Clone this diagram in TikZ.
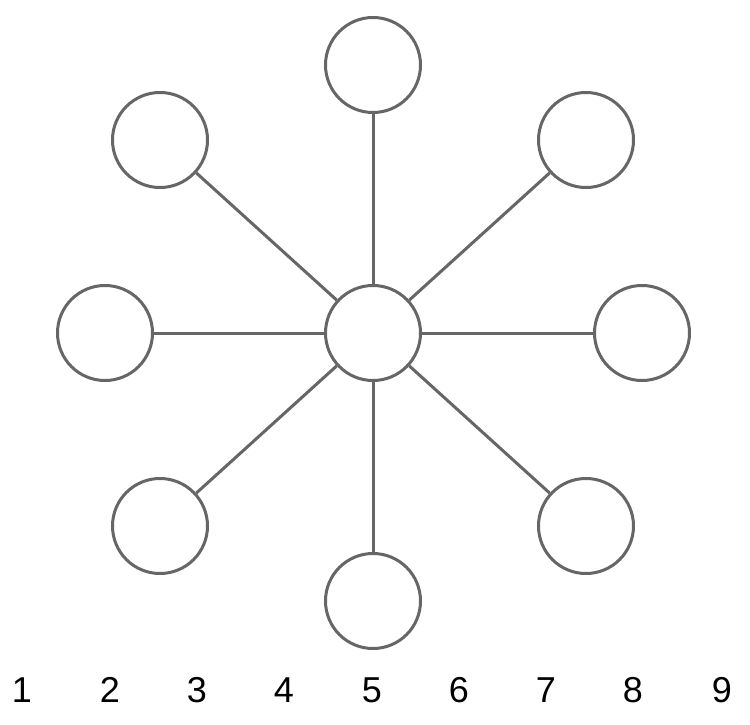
\documentclass[tikz,border=0pt]{standalone}
\usepackage{fontspec}
\setmainfont{Liberation Sans}
\begin{document}
\begin{tikzpicture}[x=1pt,y=-1pt,
  nd/.style={circle,draw=black!60,line width=3pt,minimum size=95pt,inner sep=0pt,fill=white},
  ln/.style={draw=black!60,line width=3pt},
  num/.style={font=\fontsize{36}{42}\selectfont,inner sep=0pt}]
\useasboundingbox (0,0) rectangle (750,725);
\node[nd] (c) at (373,333) {};
\node[nd] (n) at (373,65) {};
\node[nd] (s) at (373,601) {};
\node[nd] (w) at (105,333) {};
\node[nd] (e) at (642,333) {};
\node[nd] (nw) at (160,140) {};
\node[nd] (ne) at (586,140) {};
\node[nd] (sw) at (160,526) {};
\node[nd] (se) at (586,526) {};
\foreach \t in {n,s,w,e,nw,ne,sw,se} \draw[ln] (c) -- (\t);
\foreach \i/\x in {1/22,2/110,3/197,4/284,5/372,6/459,7/546,8/633,9/722}
  \node[num] (l\i) at (\x,690) {\i};
\end{tikzpicture}
\end{document}
